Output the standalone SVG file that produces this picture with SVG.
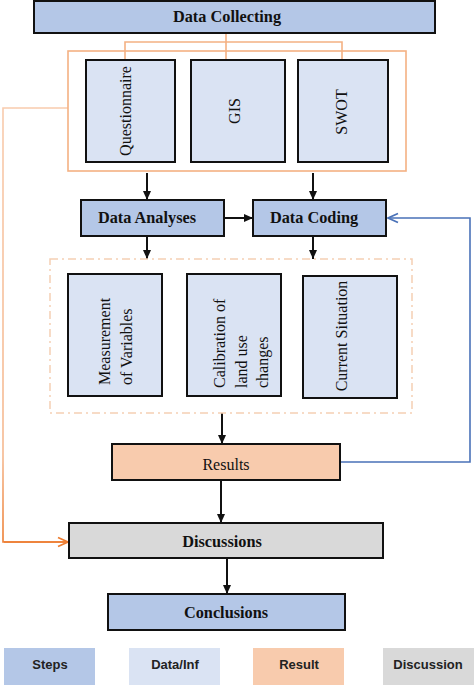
<svg xmlns="http://www.w3.org/2000/svg" width="474" height="685" viewBox="0 0 474 685">
<style>
.box{stroke:#111;stroke-width:2}
.step{fill:#b4c7e7}
.data{fill:#dae3f3}
.res{fill:#f8cbad}
.disc{fill:#d9d9d9}
.tb{font-family:"Liberation Serif","Times New Roman",serif;font-weight:bold;font-size:16.3px;fill:#111;text-anchor:middle}
.tr{font-family:"Liberation Serif","Times New Roman",serif;font-size:16px;fill:#111}
.lg{font-family:"Liberation Sans",Arial,sans-serif;font-weight:bold;font-size:13px;fill:#222;text-anchor:middle}
.arr{stroke:#111;stroke-width:2;fill:none;marker-end:url(#ah)}
.or{stroke:#f4b183;stroke-width:1.6;fill:none}
</style>
<defs>
<marker id="ah" markerWidth="10" markerHeight="10" refX="9" refY="5" orient="auto" markerUnits="userSpaceOnUse">
<path d="M0,1 L9,5 L0,9 Z" fill="#111"/>
</marker>
<marker id="ab" markerWidth="12" markerHeight="12" refX="11" refY="6" orient="auto" markerUnits="userSpaceOnUse">
<path d="M1,1.5 L11,6 L1,10.5" fill="none" stroke="#4a72b8" stroke-width="1.8"/>
</marker>
<marker id="ao" markerWidth="12" markerHeight="12" refX="11" refY="6" orient="auto" markerUnits="userSpaceOnUse">
<path d="M1,1.5 L11,6 L1,10.5" fill="none" stroke="#ed7d31" stroke-width="1.8"/>
</marker>
<linearGradient id="og" x1="0" y1="0" x2="0" y2="1">
<stop offset="0" stop-color="#f8cbad"/>
<stop offset="0.8" stop-color="#f5b88f"/>
<stop offset="1" stop-color="#ed7d31"/>
</linearGradient>
</defs>

<g id="connectors">
<path class="or" d="M226,34 V60 M125,60 V42 H342 V60"/>
<path d="M68,108 H3 V542 H68" fill="none" stroke="url(#og)" stroke-width="1.6"/>
<path d="M4,542 H68" fill="none" stroke="#ed7d31" stroke-width="1.6" marker-end="url(#ao)"/>
<path class="arr" d="M147,173 V200"/>
<path class="arr" d="M313,173 V200"/>
<path class="arr" d="M224,218 H253"/>
<path class="arr" d="M147,236 V259"/>
<path class="arr" d="M313,236 V259"/>
<path class="arr" d="M222,413 V444"/>
<path class="arr" d="M221,480 V523"/>
<path class="arr" d="M227,558 V594"/>
<path d="M340,462 H470 V218 H388" fill="none" stroke="#4a72b8" stroke-width="1.6" marker-end="url(#ab)"/>
</g>

<g id="data-collecting">
<rect class="box step" x="34" y="1" width="401" height="32" stroke-width="2.5"/>
<text class="tb" x="227" y="22">Data Collecting</text>
</g>

<g id="collect-group">
<rect x="68" y="51" width="338" height="120" fill="none" stroke="#f4b183" stroke-width="1.6"/>
</g>

<g id="questionnaire">
<rect class="box data" x="86" y="60" width="89" height="102"/>
<text class="tr" font-size="16.5" text-anchor="middle" transform="translate(131,111) rotate(-90)">Questionnaire</text>
</g>
<g id="gis">
<rect class="box data" x="191" y="60" width="94" height="102"/>
<text class="tr" font-size="17" text-anchor="middle" transform="translate(240,111) rotate(-90)">GIS</text>
</g>
<g id="swot">
<rect class="box data" x="298" y="60" width="90" height="102"/>
<text class="tr" font-size="17" text-anchor="middle" transform="translate(347,112) rotate(-90)">SWOT</text>
</g>

<g id="data-analyses">
<rect class="box step" x="81" y="200" width="143" height="36"/>
<text class="tb" x="147" y="223">Data Analyses</text>
</g>
<g id="data-coding">
<rect class="box step" x="253" y="200" width="133" height="36"/>
<text class="tb" x="314" y="223">Data Coding</text>
</g>

<g id="analysis-group">
<rect x="50" y="259" width="362" height="154" fill="none" stroke="#f5cfb4" stroke-width="1.5" stroke-dasharray="8,4,2,4"/>
</g>

<g id="measurement">
<rect class="box data" x="68" y="274" width="94" height="122"/>
<text class="tr" font-size="18" transform="translate(0,385) rotate(-90)"><tspan x="0" y="110">Measurement</tspan><tspan x="0" y="131.5">of Variables</tspan></text>
</g>
<g id="calibration">
<rect class="box data" x="187" y="274" width="94" height="122"/>
<text class="tr" font-size="18" transform="translate(0,388) rotate(-90)"><tspan x="0" y="225">Calibration of</tspan><tspan x="0" y="246.5">land use</tspan><tspan x="0" y="267.5">changes</tspan></text>
</g>
<g id="current-situation">
<rect class="box data" x="303" y="276" width="94" height="122"/>
<text class="tr" font-size="16.3" text-anchor="middle" transform="translate(347,336) rotate(-90)">Current Situation</text>
</g>

<g id="results">
<rect class="box res" x="112" y="444" width="228" height="36"/>
<text class="tr" text-anchor="middle" x="226" y="470">Results</text>
</g>
<g id="discussions">
<rect class="box disc" x="69" y="523" width="314" height="35"/>
<text class="tb" x="222" y="547">Discussions</text>
</g>
<g id="conclusions">
<rect class="box step" x="108" y="594" width="237" height="36"/>
<text class="tb" x="226" y="618">Conclusions</text>
</g>

<g id="legend">
<rect class="step" x="4" y="648" width="91" height="40"/>
<text class="lg" x="50" y="669">Steps</text>
<rect class="data" x="129" y="648" width="91" height="40"/>
<text class="lg" x="175" y="669">Data/Inf</text>
<rect class="res" x="253" y="648" width="91" height="40"/>
<text class="lg" x="299" y="669">Result</text>
<rect class="disc" x="383" y="648" width="95" height="40"/>
<text class="lg" x="428" y="669">Discussion</text>
</g>
</svg>
